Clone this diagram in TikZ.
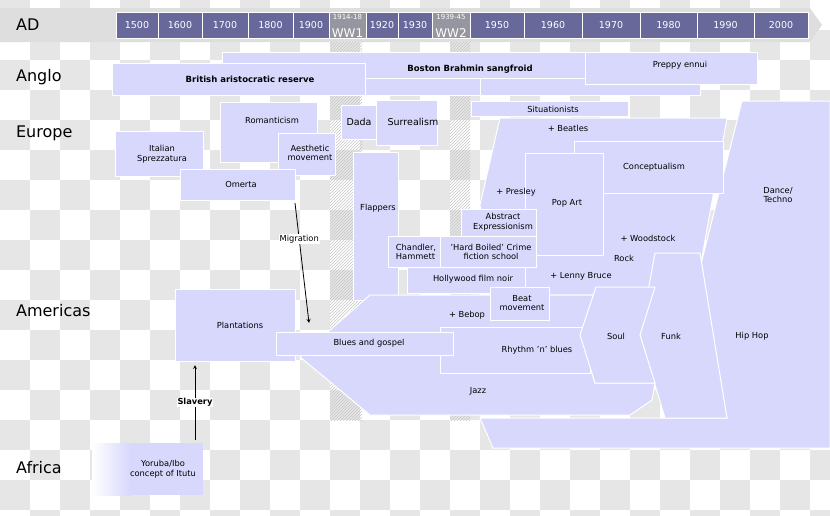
\documentclass[tikz,border=0pt]{standalone}
\usepackage{fontspec}
\setmainfont{DejaVu Sans}
\usetikzlibrary{patterns}
\definecolor{lav}{RGB}{216,216,252}
\definecolor{yearbox}{RGB}{104,104,154}
\definecolor{warbox}{RGB}{150,150,160}
\definecolor{band}{RGB}{222,222,222}
\definecolor{checker}{RGB}{230,230,230}
\tikzset{every picture/.style={line width=0.75pt}}
\tikzset{
  area/.style={fill=lav, draw=white, line width=1pt},
  lbl/.style={font=\fontsize{8.3}{9.5}\selectfont, align=center, inner sep=0.75pt},
  rowlbl/.style={anchor=west, font=\fontsize{16}{18}\selectfont, inner sep=0.75pt},
  yr/.style={fill=yearbox, draw=white},
}

\begin{document}
\begin{tikzpicture}[x=1pt,y=1pt,yscale=-1,xscale=1]
	\useasboundingbox (0,0) rectangle (830,515);
	%checkered background
	\fill[white] (0,0) rectangle (830,515);
	\foreach \i in {0,...,27} {
		\foreach \j in {0,...,17} {
			\pgfmathparse{int(mod(\i+\j,2))}
			\ifnum\pgfmathresult=0
				\fill[checker] (\i*30,\j*30) rectangle ++(30,30);
			\fi
		}
	}
	%war stripes
	\fill[pattern=north east lines, pattern color=gray!45] (330,38) rectangle (362,420);
	\fill[pattern=north east lines, pattern color=gray!45] (450,38) rectangle (470,420);
	
	%Timeline band
	\fill[band] (0,8) -- (810,8) -- (822,25) -- (810,42) -- (0,42) -- cycle;
	\foreach \a/\b/\y in {116/158/1500,158/202/1600,202/248/1700,248/293/1800,293/329/1900,366/398/1920,398/432/1930,470/524/1950,524/582/1960,582/640/1970,640/697/1980,697/754/1990,754/808/2000} {
		\draw[yr] (\a,12) rectangle (\b,38);
		\node[text=white, font=\fontsize{9.5}{10}\selectfont, inner sep=0pt] (y\y) at ({(\a+\b)/2},25) {\y};
	}
	\draw[fill=warbox, draw=white] (329,12) rectangle (366,38);
	\draw[fill=warbox, draw=white] (432,12) rectangle (470,38);
	\node[text=white, font=\fontsize{7}{7}\selectfont, anchor=north, inner sep=0.5pt] (ww1y) at (347.5,13) {1914-18};
	\node[text=white, font=\fontsize{12}{12}\selectfont, anchor=south, inner sep=0.5pt] (ww1) at (347.5,38) {WW1};
	\node[text=white, font=\fontsize{7}{7}\selectfont, anchor=north, inner sep=0.5pt] (ww2y) at (451,13) {1939-45};
	\node[text=white, font=\fontsize{12}{12}\selectfont, anchor=south, inner sep=0.5pt] (ww2) at (451,38) {WW2};
	
	%Row labels
	\node[rowlbl] (ad) at (15,25) {AD};
	\node[rowlbl] (anglo) at (15,77) {Anglo};
	\node[rowlbl] (europe) at (15,133) {Europe};
	\node[rowlbl] (americas) at (15,311) {Americas};
	\node[rowlbl] (africa) at (15,468) {Africa};
	
	%Anglo
	\draw[area] (222,52) rectangle (585,78);
	\draw[area] (480,78) rectangle (700,95);
	\draw[area] (585,52) rectangle (757,84);
	\draw[area] (112,63) rectangle (365,95);
	\draw[area] (365,78) rectangle (480,95);
	\node[lbl, font=\fontsize{8.5}{9}\selectfont\bfseries] (british) at (250,79) {British aristocratic reserve};
	\node[lbl, font=\fontsize{8.5}{9}\selectfont\bfseries] (boston) at (470,69) {Boston Brahmin sangfroid};
	\node[lbl] (preppy) at (680,65) {Preppy ennui};
	
	%Big background shapes
	\draw[area] (742,101) -- (830,101) -- (830,448) -- (493,448) -- (480,418) -- (727,418) -- (697,280) -- cycle;
	\draw[area] (500,118) -- (727,118) -- (697,285) -- (697,295) -- (490,295) -- (480,205) -- cycle;
	\draw[area] (655,253) -- (700,253) -- (727,418) -- (665,418) -- (640,335) -- cycle;
	\node[lbl] (dance) at (778,195) {Dance/\\Techno};
	\node[lbl] (hiphop) at (752,336) {Hip Hop};
	\node[lbl] (funk) at (671,336) {Funk};
	\node[lbl] (beatles) at (568,128) {+ Beatles};
	\node[lbl] (woodstock) at (648,238) {+ Woodstock};
	\node[lbl] (rock) at (624,258) {Rock};
	\node[lbl] (lenny) at (581,276) {+ Lenny Bruce};
	
	%Europe
	\draw[area] (471,101) rectangle (628,116);
	\node[lbl] (situ) at (553,109) {Situationists};
	\draw[area] (574,141) rectangle (723,193);
	\node[lbl] (concept) at (654,167) {Conceptualism};
	\draw[area] (525,153) rectangle (603,255);
	\node[lbl] (popart) at (567,203) {Pop Art};
	\node[lbl] (presley) at (516,192) {+ Presley};
	\draw[area] (115,131) rectangle (203,176);
	\node[lbl] (italian) at (162,154) {Italian\\Sprezzatura};
	\draw[area] (220,102) rectangle (317,162);
	\node[lbl] (roman) at (272,120) {Romanticism};
	\draw[area] (278,133) rectangle (335,175);
	\node[lbl] (aesthetic) at (310,153) {Aesthetic\\movement};
	\draw[area] (180,169) rectangle (295,200);
	\node[lbl] (omerta) at (241,184) {Omerta};
	\draw[area] (341,105) rectangle (376,139);
	\node[lbl, font=\fontsize{9.5}{10}\selectfont] (dada) at (359,122) {Dada};
	\draw[area] (376,100) rectangle (437,145);
	\node[lbl, font=\fontsize{9.5}{10}\selectfont] (surreal) at (413,122) {Surrealism};
	
	%Americas
	\draw[area] (353,152) rectangle (398,300);
	\node[lbl] (flappers) at (378,208) {Flappers};
	\draw[area] (407,262) rectangle (525,293);
	\node[lbl] (noir) at (473,279) {Hollywood film noir};
	\draw[area] (370,295) -- (600,295) -- (580,335) -- (595,383) -- (655,383) -- (652,400) -- (630,415) -- (370,415) -- (300,357) -- (330,330) -- cycle;
	\node[lbl] (jazz) at (478,391) {Jazz};
	\node[lbl] (bebop) at (467,315) {+ Bebop};
	\draw[area] (440,327) rectangle (590,373);
	\node[lbl] (rnb) at (537,350) {Rhythm 'n' blues};
	\draw[area] (596,287) -- (655,287) -- (640,335) -- (655,383) -- (595,383) -- (580,335) -- cycle;
	\node[lbl] (soul) at (616,336) {Soul};
	\draw[area] (461,209) rectangle (536,240);
	\node[lbl] (abstract) at (503,222) {Abstract\\Expressionism};
	\draw[area] (388,236) rectangle (440,267);
	\draw[area] (440,236) rectangle (536,267);
	\node[lbl, align=left] (chandler) at (416,252) {Chandler,\\Hammett};
	\node[lbl] (hardboiled) at (491,252) {'Hard Boiled' Crime\\fiction school};
	\draw[area] (490,287) rectangle (549,320);
	\node[lbl] (beat) at (522,303) {Beat\\movement};
	\draw[area] (175,289) rectangle (295,361);
	\node[lbl] (plant) at (240,325) {Plantations};
	\draw[area] (276,332) rectangle (453,355);
	\node[lbl] (blues) at (369,343) {Blues and gospel};
	
	%Africa
	\shade[left color=white, right color=lav] (92,443) rectangle (130,495);
	\fill[lav] (130,443) rectangle (203,495);
	\node[lbl] (yoruba) at (163,469) {Yoruba/Ibo\\concept of Itutu};
	
	%Arrows
	\coordinate (migS) at (295,203);
	\coordinate (migE) at (309,323);
	\draw[-stealth, line width=0.8pt] (migS) -- (migE) node[pos=0.3, fill=white, lbl] (migration) {Migration};
	\coordinate (slvS) at (195,440);
	\coordinate (slvE) at (195,365);
	\draw[-stealth, line width=0.8pt] (slvS) -- (slvE) node[midway, fill=white, lbl, font=\fontsize{8.3}{9.5}\selectfont\bfseries] (slavery) {Slavery};
\end{tikzpicture}
\end{document}
